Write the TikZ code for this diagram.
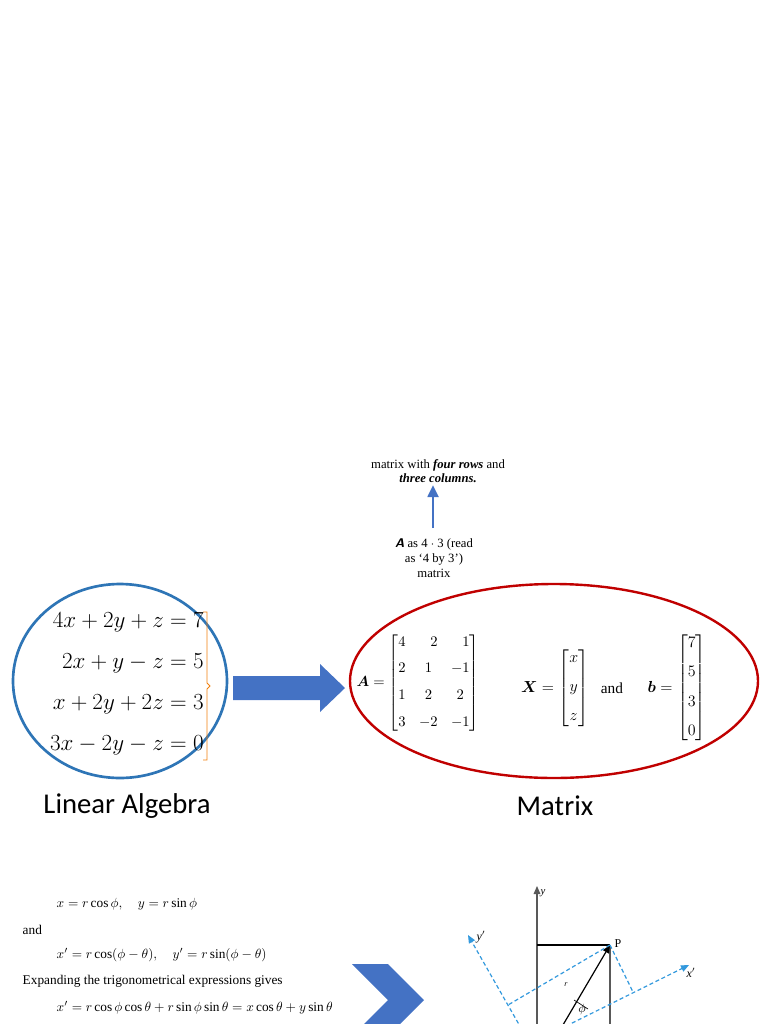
\documentclass[tikz,border=0pt]{standalone}
\usepackage{fontspec}
\usepackage{amsmath}
\setmainfont{Liberation Serif}
\newfontfamily\calfont{Carlito}
\usetikzlibrary{arrows.meta}
\definecolor{cblue}{HTML}{2E75B6}
\definecolor{bblue}{HTML}{4472C4}
\definecolor{dred}{HTML}{C00000}
\definecolor{dashblue}{HTML}{3399DD}
\tikzset{
  lbl/.style={font=\calfont\fontsize{21.5}{24}\selectfont},
  note/.style={font=\fontsize{9.5}{11}\selectfont, align=center},
  body/.style={font=\fontsize{10}{12}\selectfont, anchor=west},
  dsh/.style={dashblue, densely dashed, line width=0.9pt},
  eqn/.style={anchor=east, inner sep=0pt, font=\fontsize{17.5}{19}\selectfont},
  mat/.style={inner sep=0pt, font=\fontsize{11.5}{13}\selectfont},
}
\begin{document}
\begin{tikzpicture}[x=0.75pt,y=-0.75pt]
\useasboundingbox (0,0) rectangle (768,1024);
\clip (0,0) rectangle (768,1024);
% left circle with equations
\draw[cblue, line width=2pt] (120,681) ellipse (107 and 97);
\node[eqn] (e1) at (204,622) {$4x+2y+z=7$};
\node[eqn] (e2) at (204,663) {$2x+y-z=5$};
\node[eqn] (e3) at (204,704) {$x+2y+2z=3$};
\node[eqn] (e4) at (204,745) {$3x-2y-z=0$};
\draw[orange!80!brown, line width=0.6pt] (203,612) -- (207,612) -- (207,683) -- (210,686) -- (207,689) -- (207,760) -- (203,760);
% block arrow
\fill[bblue] (233,676) -- (320,676) -- (320,664) -- (345,688) -- (320,712) -- (320,700) -- (233,700) -- cycle;
% red ellipse
\draw[dred, line width=1.8pt] (554,681) ellipse (204 and 97);
\node[mat, font=\fontsize{10.8}{12}\selectfont] (A) at (418,683) {$\boldsymbol{A}=\begin{bmatrix}4&\phantom{-}2&\phantom{-}1\\[8pt]2&1&-1\\[8pt]1&2&2\\[8pt]3&-2&-1\end{bmatrix}$};
\node[mat] (X) at (555,688) {$\boldsymbol{X}=\begin{bmatrix}x\\[9pt]y\\[9pt]z\end{bmatrix}$};
\node[mat] (and) at (612,688) {and};
\node[mat] (b) at (677,688) {$\boldsymbol{b}=\begin{bmatrix}7\\[9pt]5\\[9pt]3\\[9pt]0\end{bmatrix}$};
% labels
\node[lbl] (la) at (127,806) {Linear Algebra};
\node[lbl] (lm) at (555,806) {Matrix};
% annotation
\node[note] (t1) at (438,471) {matrix with \textbf{\textit{four rows}} and\\ \textbf{\textit{three columns.}}};
\node[note] (t2) at (434,558) {{\sffamily\bfseries\itshape A} as 4 $\cdot$ 3 (read\\ as `4 by 3')\\ matrix};
\draw[bblue, line width=2pt, -{Triangle[width=8pt,length=9pt]}] (433,528) -- (433,485);
% bottom-left text
\node[body] (b1) at (52,904) {$x=r\cos\phi,\quad y=r\sin\phi$};
\node[body] (b2) at (18,930) {and};
\node[body] (b3) at (52,955) {$x'=r\cos(\phi-\theta),\quad y'=r\sin(\phi-\theta)$};
\node[body] (b4) at (18,981) {Expanding the trigonometrical expressions gives};
\node[body] (b5) at (52,1008) {$x'=r\cos\phi\cos\theta+r\sin\phi\sin\theta=x\cos\theta+y\sin\theta$};
% chevron
\fill[bblue] (352,964) -- (388,964) -- (424,1000) -- (388,1036) -- (352,1036) -- (388,1000) -- cycle;
% coordinate figure
\coordinate (P) at (610,945);
\draw[gray!70!black, line width=0.8pt, -{Triangle[width=5pt,length=6pt]}] (537,1030) -- (537,886);
\node[font=\fontsize{8}{9}\selectfont\itshape] (ylab) at (543,893) {y};
\draw[line width=0.8pt] (537,945) -- (P);
\draw[gray!70!black, line width=0.8pt] (P) -- (610,1030);
\node[font=\fontsize{9}{10}\selectfont] (plab) at (618,944) {P};
\draw[line width=0.9pt, -{Triangle[width=5pt,length=6pt]}] (560,1030) -- (P);
\node[font=\fontsize{6}{7}\selectfont\itshape] (rlab) at (566,985) {r};
\draw[line width=0.5pt] (574,1000) -- (588,1009);
\node[font=\fontsize{9}{10}\selectfont] (phi) at (582,1009) {$\phi$};
\draw[dsh, -{Triangle[width=5pt,length=6pt]}] (525,1035) -- (468,935);
\node[font=\fontsize{9}{10}\selectfont\itshape] (yp) at (481,937) {y$'$};
\draw[dsh, -{Triangle[width=5pt,length=6pt]}] (548,1035) -- (689,965);
\node[font=\fontsize{9}{10}\selectfont\itshape] (xp) at (691,973) {x$'$};
\draw[dsh] (P) -- (633,992);
\draw[dsh] (P) -- (508,1005);
\end{tikzpicture}
\end{document}
